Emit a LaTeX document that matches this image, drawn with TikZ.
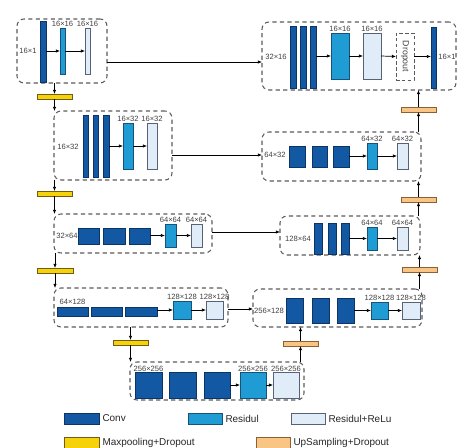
\documentclass[tikz,border=0pt]{standalone}
\usepackage{fontspec}
\setmainfont{Liberation Sans}
\usetikzlibrary{positioning,fit,arrows.meta}
\definecolor{convblue}{RGB}{18, 88, 162}
\definecolor{convedge}{RGB}{12, 52, 100}
\definecolor{resblue}{RGB}{32, 156, 212}
\definecolor{resedge}{RGB}{22, 82, 122}
\definecolor{relblue}{RGB}{224, 236, 248}
\definecolor{reledge}{RGB}{88, 98, 118}
\definecolor{poolyel}{RGB}{246, 210, 10}
\definecolor{pooledge}{RGB}{112, 92, 22}
\definecolor{uporng}{RGB}{249, 197, 132}
\definecolor{upedge}{RGB}{140, 96, 52}
\definecolor{dashgray}{RGB}{90, 90, 90}

\begin{document}
\begin{tikzpicture}[
        x=0.03cm, y=-0.03cm,
        every node/.style={inner sep=0pt, outer sep=0pt},
        conv/.style={draw=convedge, fill=convblue, line width=0.5pt},
        res/.style={draw=resedge, fill=resblue, line width=0.5pt},
        rel/.style={draw=reledge, fill=relblue, line width=0.5pt},
        pool/.style={draw=pooledge, fill=poolyel, line width=0.6pt},
        upsm/.style={draw=upedge, fill=uporng, line width=0.6pt},
        blk/.style={draw=dashgray, line width=0.9pt, dash pattern=on 3.6pt off 2.8pt, rounded corners=6pt},
        drop/.style={draw=dashgray, line width=0.7pt, dash pattern=on 3pt off 2pt},
        lbl/.style={font=\fontsize{6.5}{7}\selectfont, text=black!75},
        lgd/.style={font=\fontsize{8.5}{10}\selectfont, text=black!85, anchor=west},
        arr/.style={-{Latex[length=3.5pt,width=3pt]}, line width=0.6pt}
    ]
    \useasboundingbox (0,0) rectangle (474,448);

    % encoder, left column
    \node[blk, fit={(17,19) (107,83)}] (b1) {};
    \node[conv, fit={(40,21) (46,82)}] (c1) {};
    \node[res, fit={(60,28) (65,74)}] (r1) {};
    \node[rel, fit={(85,28) (90,74)}] (l1) {};
    \node[lbl] (b1t) at (28,51) {16×1};
    \node[lbl, above=1.5pt of r1] (r1t) {16×16};
    \node[lbl, above=1.5pt of l1] (l1t) {16×16};
    \draw[arr] (c1.east |- r1.west) -- (r1.west);
    \draw[arr] (r1.east) -- (l1.west);
    \node[pool, fit={(37,94) (72,99)}] (p1) {};

    \node[blk, fit={(54,111) (172,180)}] (b2) {};
    \node[conv, fit={(83,115) (88,177)}] (c2a) {};
    \node[conv, fit={(93,115) (98,177)}] (c2b) {};
    \node[conv, fit={(103,115) (109,177)}] (c2c) {};
    \node[res, fit={(123,123) (133,169)}] (r2) {};
    \node[rel, fit={(147,123) (157,169)}] (l2) {};
    \node[lbl] (b2t) at (68,147) {16×32};
    \node[lbl, above=1.5pt of r2] (r2t) {16×32};
    \node[lbl, above=1.5pt of l2] (l2t) {16×32};
    \draw[arr] (c2c.east |- r2.west) -- (r2.west);
    \draw[arr] (r2.east) -- (l2.west);
    \node[pool, fit={(37,191) (72,196)}] (p2) {};

    \node[blk, fit={(54,214) (212,253)}] (b3) {};
    \node[conv, fit={(78,228) (99,244)}] (c3a) {};
    \node[conv, fit={(103,228) (125,244)}] (c3b) {};
    \node[conv, fit={(129,228) (150,244)}] (c3c) {};
    \node[res, fit={(165,224) (176,247)}] (r3) {};
    \node[rel, fit={(191,224) (202,247)}] (l3) {};
    \node[lbl] (b3t) at (67,236) {32×64};
    \node[lbl, above=1.5pt of r3] (r3t) {64×64};
    \node[lbl, above=1.5pt of l3] (l3t) {64×64};
    \draw[arr] (c3c.east |- r3.west) -- (r3.west);
    \draw[arr] (r3.east) -- (l3.west);
    \node[pool, fit={(37,268) (73,273)}] (p3) {};

    \node[blk, fit={(54,288) (228,327)}] (b4) {};
    \node[conv, fit={(57,307) (88,316)}] (c4a) {};
    \node[conv, fit={(91,307) (122,316)}] (c4b) {};
    \node[conv, fit={(125,307) (157,316)}] (c4c) {};
    \node[res, fit={(173,301) (191,319)}] (r4) {};
    \node[rel, fit={(206,301) (223,319)}] (l4) {};
    \node[lbl, above=2pt of c4a] (b4t) {64×128};
    \node[lbl, above=1.5pt of r4] (r4t) {128×128};
    \node[lbl, above=1.5pt of l4] (l4t) {128×128};
    \draw[arr] (c4c.east |- r4.west) -- (r4.west);
    \draw[arr] (r4.east) -- (l4.west);
    \node[pool, fit={(113,340) (148,345)}] (p4) {};

    % bottom
    \node[blk, fit={(130,362) (304,400)}] (b5) {};
    \node[conv, fit={(135,372) (162,398)}] (c5a) {};
    \node[conv, fit={(169,372) (196,398)}] (c5b) {};
    \node[conv, fit={(204,372) (230,398)}] (c5c) {};
    \node[res, fit={(240,372) (266,398)}] (r5) {};
    \node[rel, fit={(273,372) (299,398)}] (l5) {};
    \node[lbl, above=0.5pt of c5a] (b5t) {256×256};
    \node[lbl, above=0.5pt of r5] (r5t) {256×256};
    \node[lbl, above=0.5pt of l5] (l5t) {256×256};
    \draw[arr] (c5c.east |- r5.west) -- (r5.west);
    \draw[arr] (r5.east) -- (l5.west);

    % decoder, right column
    \node[blk, fit={(253,289) (422,327)}] (d4) {};
    \node[conv, fit={(286,298) (303,323)}] (e4a) {};
    \node[conv, fit={(312,298) (329,323)}] (e4b) {};
    \node[conv, fit={(337,298) (354,323)}] (e4c) {};
    \node[res, fit={(371,302) (388,319)}] (s4) {};
    \node[rel, fit={(402,302) (420,319)}] (t4) {};
    \node[lbl] (d4t) at (269,311) {256×128};
    \node[lbl, above=1.5pt of s4] (s4t) {128×128};
    \node[lbl, above=1.5pt of t4] (t4t) {128×128};
    \draw[arr] (e4c.east |- s4.west) -- (s4.west);
    \draw[arr] (s4.east) -- (t4.west);
    \node[upsm, fit={(283,341) (318,346)}] (u4) {};
    \node[upsm, fit={(402,267) (437,272)}] (u3) {};

    \node[blk, fit={(280,216) (420,255)}] (d3) {};
    \node[conv, fit={(314,223) (322,254)}] (e3a) {};
    \node[conv, fit={(328,223) (336,254)}] (e3b) {};
    \node[conv, fit={(341,223) (349,254)}] (e3c) {};
    \node[res, fit={(367,227) (377,250)}] (s3) {};
    \node[rel, fit={(397,227) (408,250)}] (t3) {};
    \node[lbl] (d3t) at (298,239) {128×64};
    \node[lbl, above=1.5pt of s3] (s3t) {64×64};
    \node[lbl, above=1.5pt of t3] (t3t) {64×64};
    \draw[arr] (e3c.east |- s3.west) -- (s3.west);
    \draw[arr] (s3.east) -- (t3.west);
    \node[upsm, fit={(401,197) (436,202)}] (u2) {};

    \node[blk, fit={(262,132) (421,181)}] (d2) {};
    \node[conv, fit={(289,146) (305,167)}] (e2a) {};
    \node[conv, fit={(312,146) (327,167)}] (e2b) {};
    \node[conv, fit={(333,146) (349,167)}] (e2c) {};
    \node[res, fit={(367,143) (377,169)}] (s2) {};
    \node[rel, fit={(397,143) (408,169)}] (t2) {};
    \node[lbl] (d2t) at (275,155) {64×32};
    \node[lbl, above=1.5pt of s2] (s2t) {64×32};
    \node[lbl, above=1.5pt of t2] (t2t) {64×32};
    \draw[arr] (e2c.east |- s2.west) -- (s2.west);
    \draw[arr] (s2.east) -- (t2.west);
    \node[upsm, fit={(401,107) (436,112)}] (u1) {};

    \node[blk, fit={(262,22) (456,90)}] (d1) {};
    \node[conv, fit={(290,26) (296,88)}] (e1a) {};
    \node[conv, fit={(300,26) (306,88)}] (e1b) {};
    \node[conv, fit={(310,26) (316,88)}] (e1c) {};
    \node[res, fit={(331,33) (349,79)}] (s1) {};
    \node[rel, fit={(363,33) (381,79)}] (t1) {};
    \node[drop, fit={(396,33) (414,80)}] (dr1) {};
    \node[lbl, font=\fontsize{7.5}{8}\selectfont, rotate=-90] (dr1t) at (dr1.center) {Dropout};
    \node[conv, fit={(431,27) (436,88)}] (o1) {};
    \node[lbl] (d1t) at (276,57) {32×16};
    \node[lbl] (o1t) at (447,57) {16×1};
    \node[lbl, above=1.5pt of s1] (s1t) {16×16};
    \node[lbl, above=1.5pt of t1] (t1t) {16×16};
    \draw[arr] (e1c.east |- s1.west) -- (s1.west);
    \draw[arr] (s1.east) -- (t1.west);
    \draw[arr] (t1.east) -- (dr1.west);
    \draw[arr] (dr1.east) -- (dr1.east -| o1.west);

    % down the encoder
    \draw[arr] (p1.north |- b1.south) -- (p1.north);
    \draw[arr] (p1.south) -- (p1.south |- b2.north);
    \draw[arr] (p2.north |- b2.south) -- (p2.north);
    \draw[arr] (p2.south) -- (p2.south |- b3.north);
    \draw[arr] (p3.north |- b3.south) -- (p3.north);
    \draw[arr] (p3.south) -- (p3.south |- b4.north);
    \draw[arr] (p4.north |- b4.south) -- (p4.north);
    \draw[arr] (p4.south) -- (p4.south |- b5.north);

    % up the decoder
    \draw[arr] (u4.south |- b5.north) -- (u4.south);
    \draw[arr] (u4.north) -- (u4.north |- d4.south);
    \draw[arr] (u3.south |- d4.north) -- (u3.south);
    \draw[arr] (u3.north) -- (u3.north |- d3.south);
    \draw[arr] (u2.south |- d3.north) -- (u2.south);
    \draw[arr] (u2.north) -- (u2.north |- d2.south);
    \draw[arr] (u1.south |- d2.north) -- (u1.south);
    \draw[arr] (u1.north) -- (u1.north |- d1.south);

    % skip connections
    \draw[arr] (b1.east |- 0,62) -- (d1.west |- 0,62);
    \draw[arr] (b2.east |- 0,155) -- (d2.west |- 0,155);
    \draw[arr] (b3.east |- 0,232) -- (d3.west |- 0,232);
    \draw[arr] (b4.east |- 0,309) -- (d4.west |- 0,309);

    % legend
    \node[conv, fit={(64,413) (99,424)}] (lg1) {};
    \node[lgd, right=3pt of lg1] (lg1t) {Conv};
    \node[res, fit={(188,413) (222,424)}] (lg2) {};
    \node[lgd, right=3pt of lg2] (lg2t) {Residul};
    \node[rel, fit={(291,413) (325,424)}] (lg3) {};
    \node[lgd, right=3pt of lg3] (lg3t) {Residul+ReLu};
    \node[pool, fit={(64,437) (99,448)}] (lg4) {};
    \node[lgd, right=3pt of lg4] (lg4t) {Maxpooling+Dropout};
    \node[upsm, fit={(256,437) (290,448)}] (lg5) {};
    \node[lgd, right=3pt of lg5] (lg5t) {UpSampling+Dropout};
\end{tikzpicture}
\end{document}
